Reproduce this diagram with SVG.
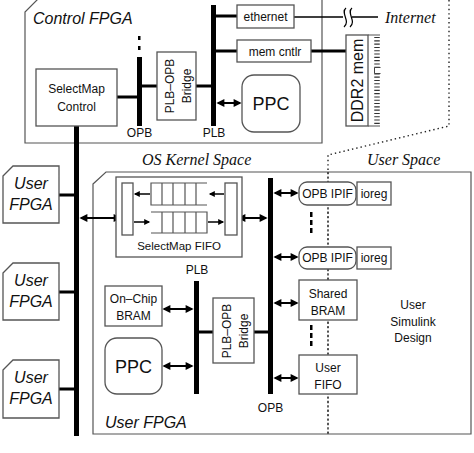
<svg xmlns="http://www.w3.org/2000/svg" width="474" height="453" viewBox="0 0 474 453">
<defs>
<style>
.box{fill:#fff;stroke:#555;stroke-width:1.3}
.ln{fill:none;stroke:#555;stroke-width:1.2}
.bar{fill:#000}
.wire{stroke:#000;stroke-width:3;fill:none}
.arr{stroke:#000;stroke-width:2;fill:none;marker-start:url(#ah);marker-end:url(#ah)}
.sa{stroke:#000;stroke-width:1.5;fill:none;marker-end:url(#sh)}
.t{font-family:"Liberation Sans",Arial,sans-serif;font-size:12px;fill:#111;text-anchor:middle}
.ti{font-family:"Liberation Sans",Arial,sans-serif;font-size:16px;font-style:italic;fill:#111}
.ts{font-family:"Liberation Serif","Times New Roman",serif;font-size:16px;font-style:italic;fill:#111}
.dot{fill:none;stroke:#222;stroke-width:1.4;stroke-dasharray:1.4 3}
</style>
<marker id="ah" viewBox="0 0 10 10" refX="8" refY="5" markerWidth="9" markerHeight="8" orient="auto-start-reverse" markerUnits="userSpaceOnUse"><path d="M0,0 L10,5 L0,10 z" fill="#000"/></marker>
<marker id="sh" viewBox="0 0 10 10" refX="8" refY="5" markerWidth="7" markerHeight="6" orient="auto" markerUnits="userSpaceOnUse"><path d="M0,0 L10,5 L0,10 z" fill="#000"/></marker>
</defs>
<rect width="474" height="453" fill="#fff"/>

<!-- space divider -->
<path class="dot" d="M449,0 V126 L328,155 V434"/>

<!-- Control FPGA container -->
<g id="control-fpga">
<path class="ln" d="M38,-1 L25,12 V143 H322 V-1"/>
<text class="ti" x="33" y="24">Control FPGA</text>
</g>

<!-- User FPGA container -->
<g id="user-fpga">
<path class="ln" d="M93,184 L106,172 H471 V434 H93 Z" fill="none"/>
<text class="ti" x="105" y="428">User FPGA</text>
</g>
<path class="dot" d="M328,172 V434"/>

<text class="ts" x="142" y="165">OS Kernel Space</text>
<text class="ts" x="367" y="165">User Space</text>

<!-- connectors -->
<g id="connectors">
<rect class="bar" x="74" y="126" width="5" height="310"/>
<rect class="bar" x="137" y="57" width="5" height="69"/>
<rect class="bar" x="211" y="5" width="5" height="121"/>
<rect class="bar" x="194" y="281" width="5" height="113"/>
<rect class="bar" x="268" y="178" width="5" height="216"/>
<rect class="bar" x="138" y="36" width="2.5" height="4"/>
<rect class="bar" x="138" y="46" width="2.5" height="4"/>
<path class="wire" d="M117,97 H138 M141,86 H157 M196,86 H212 M215,16 H237 M215,51 H237"/>
<path class="wire" d="M311,51 H346" stroke-width="2"/>
<path d="M294,17 H343 M352,17 H378" stroke="#000" stroke-width="1.5" fill="none"/>
<path d="M346,8 C340,13 351,21 344,27 M352,8 C346,13 357,21 350,27" stroke="#000" stroke-width="1.2" fill="none"/>
<path class="wire" d="M59,195 H75 M59,292 H75 M59,389 H75 M198,332 H213 M254,332 H269"/>
<line class="arr" x1="218" y1="103" x2="240" y2="103"/>
<line class="arr" x1="81" y1="218" x2="120" y2="218"/>
<line class="arr" x1="239" y1="218" x2="266" y2="218"/>
<line class="arr" x1="164" y1="309" x2="192" y2="309"/>
<line class="arr" x1="164" y1="366" x2="192" y2="366"/>
<line class="arr" x1="275" y1="193" x2="297" y2="193"/>
<line class="arr" x1="275" y1="257" x2="297" y2="257"/>
<line class="arr" x1="275" y1="303" x2="297" y2="303"/>
<line class="arr" x1="275" y1="378" x2="297" y2="378"/>
<rect class="bar" x="310" y="212" width="2.5" height="5"/>
<rect class="bar" x="310" y="220" width="2.5" height="5"/>
<rect class="bar" x="310" y="228" width="2.5" height="5"/>
<rect class="bar" x="310" y="325" width="2.5" height="5"/>
<rect class="bar" x="310" y="333" width="2.5" height="5"/>
<rect class="bar" x="310" y="341" width="2.5" height="5"/>
</g>

<!-- Control FPGA nodes -->
<g id="selectmap-control">
<rect class="box" x="36" y="69" width="81" height="57"/>
<text class="t" x="76.5" y="93">SelectMap</text>
<text class="t" x="76.5" y="111">Control</text>
</g>
<text class="t" x="139.5" y="137">OPB</text>
<text class="t" x="214" y="137">PLB</text>
<g id="ctrl-bridge">
<rect class="box" x="157" y="52" width="39" height="68"/>
<text class="t" transform="translate(174,86) rotate(-90)">PLB–OPB</text>
<text class="t" transform="translate(190.5,86) rotate(-90)">Bridge</text>
</g>
<g id="ethernet">
<rect class="box" x="237" y="5" width="57" height="23"/>
<text class="t" x="265.5" y="21">ethernet</text>
</g>
<g id="mem-cntlr">
<rect class="box" x="237" y="40" width="74" height="22"/>
<text class="t" x="275" y="56">mem cntlr</text>
</g>
<g id="ctrl-ppc">
<rect class="box" x="242" y="75" width="58" height="57" rx="12"/>
<text class="t" x="271" y="110" style="font-size:18px">PPC</text>
</g>
<g id="ddr2">
<rect class="box" x="346" y="35" width="22" height="91"/>
<path class="ln" d="M368,35 H380 M368,126 H380"/>
<line x1="377" y1="37" x2="377" y2="125" stroke="#333" stroke-width="5.5" stroke-dasharray="1.1 2.2"/>
<path d="M380.5,67.5 H374.5 V73.5 H380.5" fill="#fff" stroke="#444" stroke-width="1"/>
<text class="t" transform="translate(363,80.5) rotate(-90)" style="font-size:16px">DDR2 mem</text>
</g>
<text class="ts" x="385" y="23">Internet</text>

<!-- external User FPGAs -->
<g id="user-fpga-1">
<path class="box" d="M3,176 L13,166 H59 V223 H3 Z"/>
<text class="ti" x="31" y="189" text-anchor="middle">User</text>
<text class="ti" x="31" y="210" text-anchor="middle">FPGA</text>
</g>
<g id="user-fpga-2">
<path class="box" d="M3,273 L13,263 H59 V320 H3 Z"/>
<text class="ti" x="31" y="286" text-anchor="middle">User</text>
<text class="ti" x="31" y="307" text-anchor="middle">FPGA</text>
</g>
<g id="user-fpga-3">
<path class="box" d="M3,370 L13,360 H59 V418 H3 Z"/>
<text class="ti" x="31" y="383" text-anchor="middle">User</text>
<text class="ti" x="31" y="404" text-anchor="middle">FPGA</text>
</g>

<!-- SelectMap FIFO -->
<g id="selectmap-fifo">
<rect class="box" x="116" y="177" width="126" height="80"/>
<rect class="box" x="122" y="183" width="11" height="52"/>
<rect class="box" x="225" y="183" width="12" height="52"/>
<path class="ln" d="M207,183 H151 V205 H207 M162,183 V205 M173,183 V205 M185,183 V205 M196,183 V205"/>
<path class="ln" d="M151,212 H207 V233 H151 M162,212 V233 M173,212 V233 M185,212 V233 M196,212 V233"/>
<line class="sa" x1="224" y1="194" x2="210" y2="194"/>
<line class="sa" x1="150" y1="194" x2="135" y2="194"/>
<line class="sa" x1="134" y1="222" x2="149" y2="222"/>
<line class="sa" x1="208" y1="222" x2="223" y2="222"/>
<text class="t" x="179" y="250" style="font-size:11.5px">SelectMap FIFO</text>
</g>

<!-- User FPGA nodes -->
<text class="t" x="197" y="274">PLB</text>
<text class="t" x="270.5" y="412">OPB</text>
<g id="onchip-bram">
<rect class="box" x="105" y="286" width="57" height="40"/>
<text class="t" x="133.5" y="303">On–Chip</text>
<text class="t" x="133.5" y="320">BRAM</text>
</g>
<g id="user-ppc">
<rect class="box" x="105" y="338" width="57" height="56" rx="12"/>
<text class="t" x="133.5" y="373" style="font-size:18px">PPC</text>
</g>
<g id="user-bridge">
<rect class="box" x="213" y="298" width="41" height="65"/>
<text class="t" transform="translate(231,331) rotate(-90)">PLB–OPB</text>
<text class="t" transform="translate(248,331) rotate(-90)">Bridge</text>
</g>
<g id="opb-ipif-1">
<rect class="box" x="299" y="182" width="57" height="23" rx="8"/>
<text class="t" x="327.5" y="198">OPB IPIF</text>
</g>
<g id="ioreg-1">
<rect class="box" x="357" y="182" width="34" height="23"/>
<text class="t" x="374" y="198">ioreg</text>
</g>
<g id="opb-ipif-2">
<rect class="box" x="299" y="247" width="57" height="22" rx="8"/>
<text class="t" x="327.5" y="262">OPB IPIF</text>
</g>
<g id="ioreg-2">
<rect class="box" x="357" y="247" width="34" height="22"/>
<text class="t" x="374" y="262">ioreg</text>
</g>
<g id="shared-bram">
<rect class="box" x="299" y="280" width="58" height="40"/>
<text class="t" x="328" y="298">Shared</text>
<text class="t" x="328" y="315">BRAM</text>
</g>
<g id="user-fifo">
<rect class="box" x="299" y="355" width="58" height="39"/>
<text class="t" x="328" y="372">User</text>
<text class="t" x="328" y="389">FIFO</text>
</g>
<g id="simulink">
<text class="t" x="413" y="309">User</text>
<text class="t" x="413" y="326">Simulink</text>
<text class="t" x="413" y="342">Design</text>
</g>
</svg>
